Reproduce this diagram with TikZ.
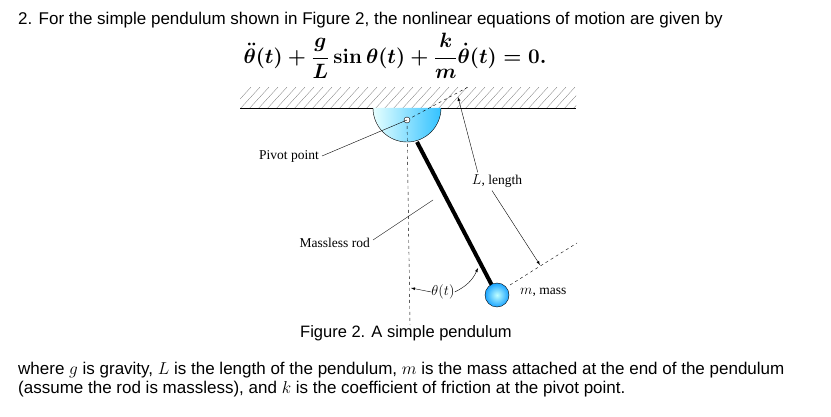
\documentclass[tikz,border=0pt]{standalone}
\usepackage{amsmath}
\usepackage[no-math]{fontspec}
\setmainfont{Liberation Sans}
\newfontfamily\figfont{Liberation Serif}
\begin{document}
\begin{tikzpicture}[x=1pt,y=-1pt,
  txt/.style={anchor=west,inner sep=0,font=\fontsize{17}{19}\selectfont},
  lbl/.style={inner sep=0,font=\figfont\fontsize{13.5}{15}\selectfont},
  lead/.style={thin}]
\useasboundingbox (0,0) rectangle (831,417);
\node[txt] (t1) at (18,20) {2. For the simple pendulum shown in Figure 2, the nonlinear equations of motion are given by};
\node[inner sep=0,font=\fontsize{20}{22}\selectfont\boldmath] (eq) at (395,56) {$\ddot\theta(t)+\dfrac{g}{L}\sin\theta(t)+\dfrac{k}{m}\dot\theta(t)=0.$};
% hatch
\begin{scope}
\clip (240,88) rectangle (576,108);
\foreach \i in {0,...,40} {\draw[very thin,gray!70!black] (230+\i*9,110) -- (252+\i*9,86);}
\end{scope}
\draw[semithick] (240,108) -- (576,108);
% semicircle
\shade[left color=cyan!10,right color=cyan!70!blue!80] (373,108) arc[start angle=180,end angle=0,radius=34] -- cycle;
\draw[thin] (373,108) arc[start angle=180,end angle=0,radius=34];
\coordinate (P) at (407,120);
\coordinate (M) at (497,295);
% dashed lines
\draw[dashed,thin] (P) -- (410,325);
\draw[dashed,thin] (P) -- (470,86);
\draw[dashed,thin] (510,285) -- (577,243);
% rod
\draw[line width=4pt] (417,142) -- (M);
\shade[inner color=cyan!25,outer color=cyan!60!blue!90] (M) circle (12);
\draw[thin] (M) circle (12);
\draw[thin,fill=white] (P) circle (3);
% L dimension
\node[lbl] (L) at (497,181) {$L$, length};
\draw[-latex,thin] (L.north west) ++(6,-2) -- (458,97);
\draw[-latex,thin] (L.south) ++(-5,3) -- (540,265);
% theta
\node[lbl] (th) at (443,292) {$\theta(t)$};
\draw[-latex,thin] (th.west) -- (411,288);
\draw[-latex,thin] (th.east) to[bend right=20] (478,268);
% labels
\node[lbl,anchor=east] (pp) at (319,156) {Pivot point};
\draw[lead] (pp.east) ++(3,0) -- (P);
\node[lbl,anchor=east] (mr) at (370,243) {Massless rod};
\draw[lead] (mr.east) ++(3,-3) -- (433,200);
\node[lbl,anchor=west] (mm) at (520,292) {$m$, mass};
\node[inner sep=0,font=\fontsize{16.5}{19}\selectfont] (cap) at (406,333) {Figure 2. A simple pendulum};
\node[txt] (b1) at (18,370) {where $g$ is gravity, $L$ is the length of the pendulum, $m$ is the mass attached at the end of the pendulum};
\node[txt] (b2) at (18,389) {(assume the rod is massless), and $k$ is the coefficient of friction at the pivot point.};
\end{tikzpicture}
\end{document}
